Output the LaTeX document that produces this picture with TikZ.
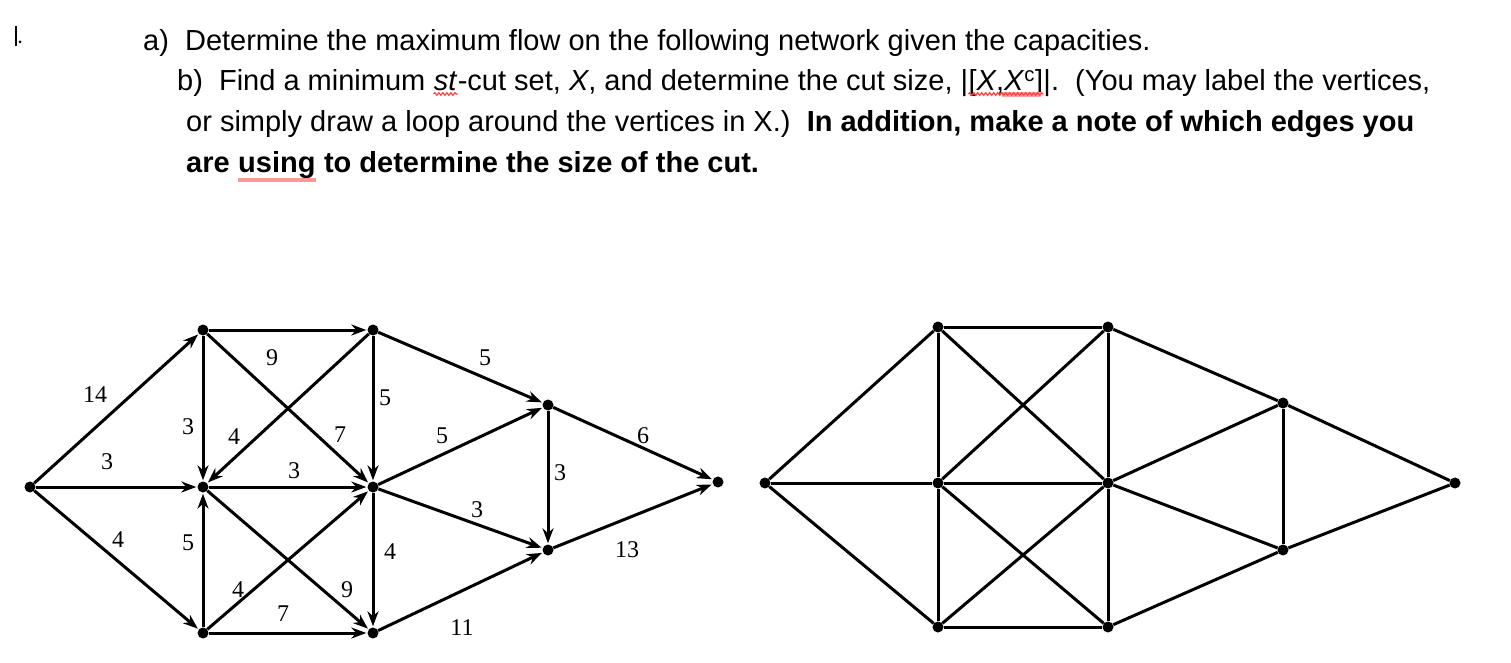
\documentclass[tikz,border=0pt]{standalone}
\usepackage{fontspec}
\setmainfont{Liberation Sans}
\newfontfamily\lblfont{Liberation Serif}
\usetikzlibrary{arrows.meta,decorations.pathmorphing}
\begin{document}
\begin{tikzpicture}[x=1pt,y=-1pt,
  v/.style={circle,fill=black,inner sep=0pt,minimum size=11pt},
  arc/.style={line width=3pt,-{Stealth[length=15pt,width=11pt]},shorten >=1pt},
  ed/.style={line width=3pt},
  lb/.style={font=\lblfont\fontsize{24}{24}\selectfont,inner sep=1pt},
  tx/.style={anchor=base west,inner sep=0pt,font=\fontsize{29}{34}\selectfont},
  wav/.style={red!75,line width=1.2pt,decorate,decoration={snake,amplitude=1.3pt,segment length=4pt}}]
\useasboundingbox (0,0) rectangle (1511,663);
% header
\draw[line width=1.3pt] (16,26) -- (16,46);
\fill (20,42) circle (1.5pt);
\node[tx] (l1) at (143,51) {a)\ \ Determine the maximum flow on the following network given the capacities.};
\node[tx] (l2a) at (177,91) {b)\ \ Find a minimum\hspace*{0.278em}};
\node[tx] (l2b) at (l2a.base east) {\textit{st}};
\node[tx] (l2c) at (l2b.base east) {-cut set, \textit{X}, and determine the cut size, |};
\node[tx] (l2d) at (l2c.base east) {[\textit{X},\textit{X}\textsuperscript{c}]};
\node[tx] (l2e) at (l2d.base east) {|.\ \ (You may label the vertices,};
\node[tx] (l3) at (186,132) {or simply draw a loop around the vertices in X.)\ \ \textbf{In addition, make a note of which edges you}};
\node[tx] (l4a) at (186,172) {\textbf{are}\hspace*{0.278em}};
\node[tx] (l4b) at (l4a.base east) {\textbf{using}};
\node[tx] (l4c) at (l4b.base east) {\hspace*{0.278em}\textbf{to determine the size of the cut.}};
\fill[red!35] ([xshift=-4pt,yshift=-1pt]l2d.base) rectangle ([xshift=-2pt,yshift=-6pt]l2d.base east);
\draw[wav] ([yshift=-3pt]l2b.base west) -- ([yshift=-3pt]l2b.base east);
\draw[wav] ([yshift=-3pt]l2d.base west) -- ([yshift=-3pt]l2d.base east);
\draw[red!40,line width=3.5pt] ([yshift=-8pt]l4b.base west) -- ([yshift=-8pt]l4b.base east);
% left graph
\node[v] (s) at (30,487) {};
\node[v] (a) at (203,330) {};
\node[v] (b) at (373,330) {};
\node[v] (c) at (203,487) {};
\node[v] (d) at (373,487) {};
\node[v] (e) at (203,633) {};
\node[v] (f) at (373,633) {};
\node[v] (g) at (548,405) {};
\node[v] (h) at (548,550) {};
\node[v] (t) at (718,482) {};
\draw[arc] (s) -- (a); \draw[arc] (s) -- (c); \draw[arc] (s) -- (e);
\draw[arc] (a) -- (b); \draw[arc] (a) -- (c); \draw[arc] (a) -- (d);
\draw[arc] (b) -- (c); \draw[arc] (b) -- (d); \draw[arc] (c) -- (d);
\draw[arc] (e) -- (c); \draw[arc] (e) -- (d); \draw[arc] (c) -- (f);
\draw[arc] (e) -- (f); \draw[arc] (d) -- (f); \draw[arc] (b) -- (g);
\draw[arc] (d) -- (g); \draw[arc] (d) -- (h); \draw[arc] (g) -- (h);
\draw[arc] (f) -- (h); \draw[arc] (g) -- (t); \draw[arc] (h) -- (t);
\node[lb] (n14) at (95,395) {14};
\node[lb] (n3a) at (107,462) {3};
\node[lb] (n4a) at (118,540) {4};
\node[lb] (n3b) at (188,427) {3};
\node[lb] (n4b) at (234,437) {4};
\node[lb] (n9a) at (272,358) {9};
\node[lb] (n7a) at (340,435) {7};
\node[lb] (n3c) at (294,471) {3};
\node[lb] (n5a) at (188,543) {5};
\node[lb] (n4c) at (238,590) {4};
\node[lb] (n7b) at (283,614) {7};
\node[lb] (n9b) at (347,590) {9};
\node[lb] (n5b) at (385,398) {5};
\node[lb] (n4d) at (390,552) {4};
\node[lb] (n5c) at (485,358) {5};
\node[lb] (n5d) at (442,436) {5};
\node[lb] (n3d) at (477,510) {3};
\node[lb] (n3e) at (560,473) {3};
\node[lb] (n6) at (643,436) {6};
\node[lb] (n13) at (627,550) {13};
\node[lb] (n11) at (462,628) {11};
% right graph
\node[v] (s2) at (765,483) {};
\node[v] (a2) at (938,327) {};
\node[v] (b2) at (1108,327) {};
\node[v] (c2) at (938,483) {};
\node[v] (d2) at (1108,483) {};
\node[v] (e2) at (938,627) {};
\node[v] (f2) at (1108,627) {};
\node[v] (g2) at (1283,403) {};
\node[v] (h2) at (1283,550) {};
\node[v] (t2) at (1455,483) {};
\foreach \p/\q in {s2/a2,s2/c2,s2/e2,a2/b2,a2/c2,a2/d2,b2/c2,b2/d2,c2/d2,e2/c2,e2/d2,c2/f2,e2/f2,d2/f2,b2/g2,d2/g2,d2/h2,g2/h2,f2/h2,g2/t2,h2/t2}
  \draw[ed] (\p) -- (\q);
\end{tikzpicture}
\end{document}
